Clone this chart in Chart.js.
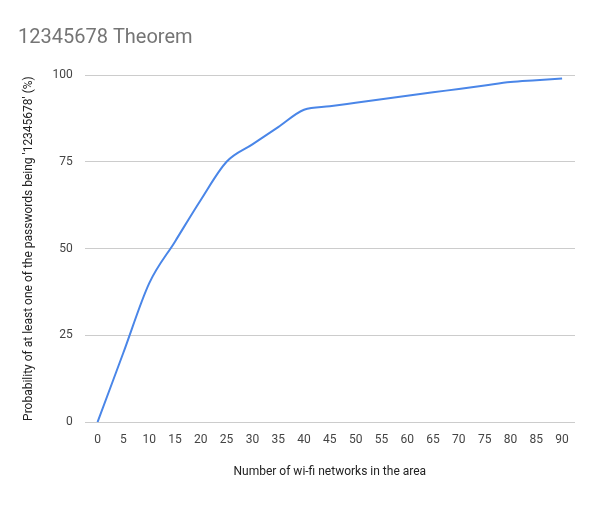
<!DOCTYPE html>
<html><head><script src="https://cdn.jsdelivr.net/npm/chart.js@4"></script>
<style>body{margin:0;background:#fff}#w{width:600px;height:505px}</style></head>
<body><div id="w"><canvas id="c"></canvas></div>
<script>
const categories=['0','5','10','15','20','25','30','35','40','45','50','55','60','65','70','75','80','85','90'];
const probability=[0,20,40,52,64,75,80,85,90,91,92,93,94,95,96,97,98,98.5,99];
const yTicks=[0,25,50,75,100];
new Chart(document.getElementById('c'),{type:'line',
data:{labels:categories,datasets:[{data:probability,borderColor:'#4a86e8',borderWidth:2,pointRadius:0,tension:0.4,cubicInterpolationMode:'monotone',fill:false}]},
options:{responsive:true,maintainAspectRatio:false,animation:false,
layout:{padding:{left:18,right:25,top:10,bottom:22}},
plugins:{legend:{display:false},tooltip:{enabled:false},
title:{display:true,text:'12345678 Theorem',align:'start',color:'#757575',font:{family:'Roboto',size:20,weight:'normal'},padding:{top:16,bottom:25}}},
scales:{x:{type:'category',offset:true,grid:{display:false},border:{display:false},
ticks:{color:'#444',font:{family:'Roboto',size:12},maxRotation:0,autoSkip:false},
title:{display:true,text:'Number of wi-fi networks in the area',color:'#222',font:{family:'Roboto',size:12},padding:{top:14}}},
y:{min:0,max:100,afterBuildTicks:a=>{a.ticks=yTicks.map(v=>({value:v}))},
grid:{color:'#ccc',drawTicks:false},border:{display:false},
ticks:{color:'#444',padding:12,font:{family:'Roboto',size:12}},
title:{display:true,text:"Probability of at least one of the passwords being '12345678' (%)",color:'#222',font:{family:'Roboto',size:12}}}}}});
</script></body></html>
